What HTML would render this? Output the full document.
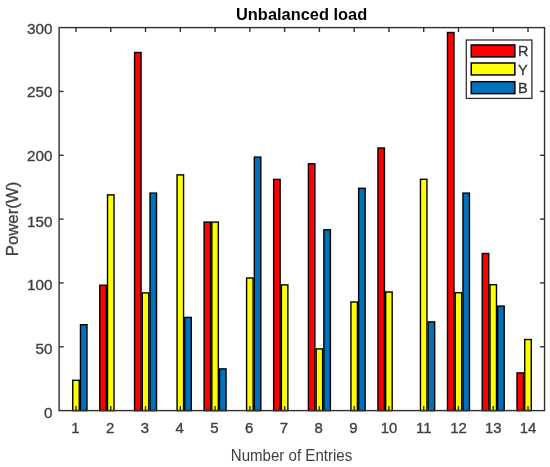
<!DOCTYPE html>
<html><head><meta charset="utf-8"><style>
html,body{margin:0;padding:0;background:#fff;}
svg{display:block;}
text{font-family:"Liberation Sans",Arial,sans-serif;}
</style></head><body>
<svg width="550" height="467" viewBox="0 0 550 467">
<rect x="0" y="0" width="550" height="467" fill="#fff"/>
<g>
<rect x="72.75" y="380.30" width="6.50" height="30.30" fill="#ffff00" stroke="#000" stroke-width="1.4"/>
<rect x="80.48" y="324.70" width="6.50" height="85.90" fill="#0072bd" stroke="#000" stroke-width="1.4"/>
<rect x="99.79" y="285.20" width="6.50" height="125.40" fill="#ff0000" stroke="#000" stroke-width="1.4"/>
<rect x="107.52" y="194.90" width="6.50" height="215.70" fill="#ffff00" stroke="#000" stroke-width="1.4"/>
<rect x="134.56" y="52.50" width="6.50" height="358.10" fill="#ff0000" stroke="#000" stroke-width="1.4"/>
<rect x="142.29" y="292.90" width="6.50" height="117.70" fill="#ffff00" stroke="#000" stroke-width="1.4"/>
<rect x="150.02" y="193.10" width="6.50" height="217.50" fill="#0072bd" stroke="#000" stroke-width="1.4"/>
<rect x="177.06" y="174.90" width="6.50" height="235.70" fill="#ffff00" stroke="#000" stroke-width="1.4"/>
<rect x="184.79" y="317.40" width="6.50" height="93.20" fill="#0072bd" stroke="#000" stroke-width="1.4"/>
<rect x="204.10" y="222.10" width="6.50" height="188.50" fill="#ff0000" stroke="#000" stroke-width="1.4"/>
<rect x="211.83" y="222.10" width="6.50" height="188.50" fill="#ffff00" stroke="#000" stroke-width="1.4"/>
<rect x="219.56" y="368.90" width="6.50" height="41.70" fill="#0072bd" stroke="#000" stroke-width="1.4"/>
<rect x="246.60" y="278.00" width="6.50" height="132.60" fill="#ffff00" stroke="#000" stroke-width="1.4"/>
<rect x="254.33" y="157.10" width="6.50" height="253.50" fill="#0072bd" stroke="#000" stroke-width="1.4"/>
<rect x="273.64" y="179.40" width="6.50" height="231.20" fill="#ff0000" stroke="#000" stroke-width="1.4"/>
<rect x="281.37" y="284.90" width="6.50" height="125.70" fill="#ffff00" stroke="#000" stroke-width="1.4"/>
<rect x="308.41" y="163.80" width="6.50" height="246.80" fill="#ff0000" stroke="#000" stroke-width="1.4"/>
<rect x="316.14" y="348.90" width="6.50" height="61.70" fill="#ffff00" stroke="#000" stroke-width="1.4"/>
<rect x="323.87" y="229.80" width="6.50" height="180.80" fill="#0072bd" stroke="#000" stroke-width="1.4"/>
<rect x="350.91" y="302.00" width="6.50" height="108.60" fill="#ffff00" stroke="#000" stroke-width="1.4"/>
<rect x="358.64" y="188.30" width="6.50" height="222.30" fill="#0072bd" stroke="#000" stroke-width="1.4"/>
<rect x="377.95" y="148.00" width="6.50" height="262.60" fill="#ff0000" stroke="#000" stroke-width="1.4"/>
<rect x="385.68" y="292.00" width="6.50" height="118.60" fill="#ffff00" stroke="#000" stroke-width="1.4"/>
<rect x="420.45" y="179.30" width="6.50" height="231.30" fill="#ffff00" stroke="#000" stroke-width="1.4"/>
<rect x="428.18" y="321.90" width="6.50" height="88.70" fill="#0072bd" stroke="#000" stroke-width="1.4"/>
<rect x="447.49" y="32.50" width="6.50" height="378.10" fill="#ff0000" stroke="#000" stroke-width="1.4"/>
<rect x="455.22" y="292.70" width="6.50" height="117.90" fill="#ffff00" stroke="#000" stroke-width="1.4"/>
<rect x="462.95" y="193.10" width="6.50" height="217.50" fill="#0072bd" stroke="#000" stroke-width="1.4"/>
<rect x="482.26" y="253.50" width="6.50" height="157.10" fill="#ff0000" stroke="#000" stroke-width="1.4"/>
<rect x="489.99" y="284.70" width="6.50" height="125.90" fill="#ffff00" stroke="#000" stroke-width="1.4"/>
<rect x="497.72" y="306.10" width="6.50" height="104.50" fill="#0072bd" stroke="#000" stroke-width="1.4"/>
<rect x="517.03" y="372.90" width="6.50" height="37.70" fill="#ff0000" stroke="#000" stroke-width="1.4"/>
<rect x="524.76" y="339.50" width="6.50" height="71.10" fill="#ffff00" stroke="#000" stroke-width="1.4"/>
</g>
<g stroke="#303030" stroke-width="1.4" fill="none">
<line x1="59.1" y1="346.77" x2="63.6" y2="346.77"/>
<line x1="544.55" y1="346.77" x2="540.05" y2="346.77"/>
<line x1="59.1" y1="282.93" x2="63.6" y2="282.93"/>
<line x1="544.55" y1="282.93" x2="540.05" y2="282.93"/>
<line x1="59.1" y1="219.10" x2="63.6" y2="219.10"/>
<line x1="544.55" y1="219.10" x2="540.05" y2="219.10"/>
<line x1="59.1" y1="155.27" x2="63.6" y2="155.27"/>
<line x1="544.55" y1="155.27" x2="540.05" y2="155.27"/>
<line x1="59.1" y1="91.43" x2="63.6" y2="91.43"/>
<line x1="544.55" y1="91.43" x2="540.05" y2="91.43"/>
<line x1="76.00" y1="410.6" x2="76.00" y2="406.1"/>
<line x1="76.00" y1="27.6" x2="76.00" y2="32.1"/>
<line x1="110.77" y1="410.6" x2="110.77" y2="406.1"/>
<line x1="110.77" y1="27.6" x2="110.77" y2="32.1"/>
<line x1="145.54" y1="410.6" x2="145.54" y2="406.1"/>
<line x1="145.54" y1="27.6" x2="145.54" y2="32.1"/>
<line x1="180.31" y1="410.6" x2="180.31" y2="406.1"/>
<line x1="180.31" y1="27.6" x2="180.31" y2="32.1"/>
<line x1="215.08" y1="410.6" x2="215.08" y2="406.1"/>
<line x1="215.08" y1="27.6" x2="215.08" y2="32.1"/>
<line x1="249.85" y1="410.6" x2="249.85" y2="406.1"/>
<line x1="249.85" y1="27.6" x2="249.85" y2="32.1"/>
<line x1="284.62" y1="410.6" x2="284.62" y2="406.1"/>
<line x1="284.62" y1="27.6" x2="284.62" y2="32.1"/>
<line x1="319.39" y1="410.6" x2="319.39" y2="406.1"/>
<line x1="319.39" y1="27.6" x2="319.39" y2="32.1"/>
<line x1="354.16" y1="410.6" x2="354.16" y2="406.1"/>
<line x1="354.16" y1="27.6" x2="354.16" y2="32.1"/>
<line x1="388.93" y1="410.6" x2="388.93" y2="406.1"/>
<line x1="388.93" y1="27.6" x2="388.93" y2="32.1"/>
<line x1="423.70" y1="410.6" x2="423.70" y2="406.1"/>
<line x1="423.70" y1="27.6" x2="423.70" y2="32.1"/>
<line x1="458.47" y1="410.6" x2="458.47" y2="406.1"/>
<line x1="458.47" y1="27.6" x2="458.47" y2="32.1"/>
<line x1="493.24" y1="410.6" x2="493.24" y2="406.1"/>
<line x1="493.24" y1="27.6" x2="493.24" y2="32.1"/>
<line x1="528.01" y1="410.6" x2="528.01" y2="406.1"/>
<line x1="528.01" y1="27.6" x2="528.01" y2="32.1"/>
<rect x="59.1" y="27.6" width="485.45" height="383.00"/>
</g>
<g fill="#404040" font-size="14.9" stroke="#404040" stroke-width="0.35">
<text x="52.6" y="418.40" text-anchor="end" font-size="15.3">0</text>
<text x="52.6" y="354.47" text-anchor="end" font-size="15.3">50</text>
<text x="52.6" y="290.13" text-anchor="end" font-size="15.3">100</text>
<text x="52.6" y="226.50" text-anchor="end" font-size="15.3">150</text>
<text x="52.6" y="161.47" text-anchor="end" font-size="15.3">200</text>
<text x="52.6" y="97.23" text-anchor="end" font-size="15.3">250</text>
<text x="52.6" y="33.70" text-anchor="end" font-size="15.3">300</text>
<text x="75.30" y="433.0" text-anchor="middle">1</text>
<text x="110.07" y="433.0" text-anchor="middle">2</text>
<text x="144.84" y="433.0" text-anchor="middle">3</text>
<text x="179.61" y="433.0" text-anchor="middle">4</text>
<text x="214.38" y="433.0" text-anchor="middle">5</text>
<text x="249.15" y="433.0" text-anchor="middle">6</text>
<text x="283.92" y="433.0" text-anchor="middle">7</text>
<text x="318.69" y="433.0" text-anchor="middle">8</text>
<text x="353.46" y="433.0" text-anchor="middle">9</text>
<text x="388.93" y="433.0" text-anchor="middle">10</text>
<text x="423.70" y="433.0" text-anchor="middle">11</text>
<text x="458.47" y="433.0" text-anchor="middle">12</text>
<text x="493.24" y="433.0" text-anchor="middle">13</text>
<text x="528.01" y="433.0" text-anchor="middle">14</text>
</g>
<text x="301.6" y="19.7" text-anchor="middle" font-size="16.4" font-weight="bold" fill="#000">Unbalanced load</text>
<text x="291.5" y="460.6" text-anchor="middle" font-size="16.4" fill="#404040" textLength="121.5" lengthAdjust="spacingAndGlyphs">Number of Entries</text>
<text transform="translate(17.9,219) rotate(-90)" text-anchor="middle" font-size="16.8" fill="#404040" stroke="#404040" stroke-width="0.3">Power(W)</text>
<g>
<rect x="466.3" y="40.0" width="65.6" height="58.4" fill="#fff" stroke="#303030" stroke-width="1.3"/>
<rect x="471.25" y="44.95" width="43.6" height="11.95" fill="#ff0000" stroke="#000" stroke-width="1.5"/>
<rect x="471.25" y="62.98" width="43.6" height="11.95" fill="#ffff00" stroke="#000" stroke-width="1.5"/>
<rect x="471.25" y="81.7" width="43.6" height="11.95" fill="#0072bd" stroke="#000" stroke-width="1.5"/>
<g fill="#333" font-size="14.5" stroke="#333" stroke-width="0.3">
<text x="518.1" y="56.2">R</text>
<text x="518.1" y="74.5">Y</text>
<text x="518.1" y="93.0">B</text>
</g>
</g>
</svg>
</body></html>
